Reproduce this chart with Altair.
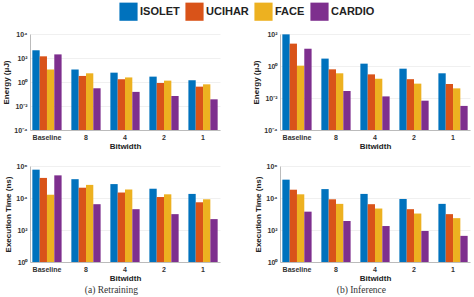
import altair as alt
import pandas as pd

bitwidths = ["Baseline", "8", "4", "2", "1"]
datasets = ["ISOLET", "UCIHAR", "FACE", "CARDIO"]
colors = ["#0072BD", "#D95319", "#EDB120", "#7E2F8E"]

# Retraining energy (uJ), one list per dataset, ordered like `bitwidths`
retrain_energy = {
    "ISOLET": [440, 11, 6.0, 2.8, 1.4],
    "UCIHAR": [138, 3.2, 1.7, 0.83, 0.41],
    "FACE": [11, 5.3, 2.4, 1.3, 0.64],
    "CARDIO": [200, 0.30, 0.15, 0.068, 0.036],
}
# Inference energy (uJ)
infer_energy = {
    "ISOLET": [95, 2.9, 1.4, 0.68, 0.35],
    "UCIHAR": [25, 0.62, 0.30, 0.15, 0.075],
    "FACE": [1.05, 0.35, 0.16, 0.079, 0.040],
    "CARDIO": [12, 0.027, 0.0126, 0.0068, 0.0032],
}
# Retraining execution time (ns)
retrain_time = {
    "ISOLET": [5.9e5, 1.5e5, 7.4e4, 3.8e4, 1.8e4],
    "UCIHAR": [1.8e5, 4.4e4, 2.2e4, 1.15e4, 5.4e3],
    "FACE": [1.6e4, 6.6e4, 3.4e4, 1.7e4, 8.3e3],
    "CARDIO": [2.6e5, 4.1e3, 2.0e3, 980, 480],
}
# Inference execution time (ns)
infer_time = {
    "ISOLET": [1.4e5, 3.6e4, 1.8e4, 8.7e3, 4.3e3],
    "UCIHAR": [3.3e4, 8.3e3, 4.1e3, 2.0e3, 980],
    "FACE": [1.7e4, 4.3e3, 2.2e3, 1.07e3, 550],
    "CARDIO": [1.4e3, 360, 177, 87, 43],
}

SANS = "Liberation Sans"
SUP = {"-": "⁻", "0": "⁰", "1": "¹", "2": "²", "3": "³", "4": "⁴",
       "5": "⁵", "6": "⁶", "7": "⁷", "8": "⁸", "9": "⁹"}


def power_label_expr(exponents):
    """Nested ternary that prints 10^k with superscript exponents."""
    expr = "''"
    for k in sorted(exponents):
        sup = "".join(SUP[c] for c in str(k))
        expr = f"abs(log(datum.value)/LN10 - ({k})) < 0.01 ? '10{sup}' : " + expr
    return expr


def to_long(table):
    rows = []
    for ds in datasets:
        for bw, v in zip(bitwidths, table[ds]):
            rows.append({"bitwidth": bw, "dataset": ds, "value": v})
    return pd.DataFrame(rows)


def panel(table, lo_exp, hi_exp, ytitle):
    ymin, ymax = 10.0 ** lo_exp, 10.0 ** hi_exp
    exps = list(range(lo_exp, hi_exp + 1, 2))
    return (
        alt.Chart(to_long(table))
        .mark_bar()
        .encode(
            x=alt.X(
                "bitwidth:N",
                sort=bitwidths,
                scale=alt.Scale(paddingInner=0.25, paddingOuter=0.06),
                axis=alt.Axis(title="Bitwidth", labelAngle=0, ticks=False),
            ),
            xOffset=alt.XOffset("dataset:N", sort=datasets),
            y=alt.Y(
                "value:Q",
                scale=alt.Scale(type="log", domain=[ymin, ymax]),
                axis=alt.Axis(
                    title=ytitle,
                    values=[10.0 ** k for k in exps],
                    labelExpr=power_label_expr(exps),
                    ticks=False,
                ),
            ),
            y2=alt.datum(ymin),
            color=alt.Color(
                "dataset:N",
                sort=datasets,
                scale=alt.Scale(domain=datasets, range=colors),
                legend=alt.Legend(
                    title=None,
                    orient="none",
                    direction="horizontal",
                    legendX=89,
                    legendY=-32,
                    symbolType="square",
                    symbolSize=330,
                    symbolStrokeWidth=0,
                    symbolOpacity=1,
                    labelFont=SANS,
                    labelFontSize=11,
                    labelFontWeight="bold",
                    labelColor="#222222",
                    labelOffset=2,
                    columnPadding=5,
                ),
            ),
        )
        .properties(width=190, height=96)
    )


caption = dict(orient="bottom", anchor="middle", font="Liberation Serif",
               fontSize=9.5, fontWeight="normal", color="#333333", offset=3)

col_a = alt.vconcat(
    panel(retrain_energy, -4, 4, "Energy (μJ)"),
    panel(retrain_time, 0, 6, "Execution Time (ns)"),
    spacing=12,
    title=alt.Title("(a) Retraining", **caption),
)
col_b = alt.vconcat(
    panel(infer_energy, -4, 2, "Energy (μJ)"),
    panel(infer_time, 0, 6, "Execution Time (ns)"),
    spacing=12,
    title=alt.Title("(b) Inference", **caption),
)

chart = (
    alt.hconcat(col_a, col_b, spacing=32)
    .properties(padding={"left": 2, "top": 2, "right": 2, "bottom": 2})
    .configure_view(stroke=None)
    .configure_axis(
        labelFont=SANS,
        labelFontSize=7,
        labelFontWeight="bold",
        labelColor="#333333",
        labelPadding=3,
        titleFont=SANS,
        titleFontSize=8,
        titleFontWeight="bold",
        titleColor="#222222",
        titlePadding=3,
        domainColor="#bbbbbb",
        gridColor="#f0f0f0",
    )
    .configure_axisX(grid=False, titlePadding=2)
)

chart.save("out.html", embed_options={"renderer": "svg", "actions": False})
